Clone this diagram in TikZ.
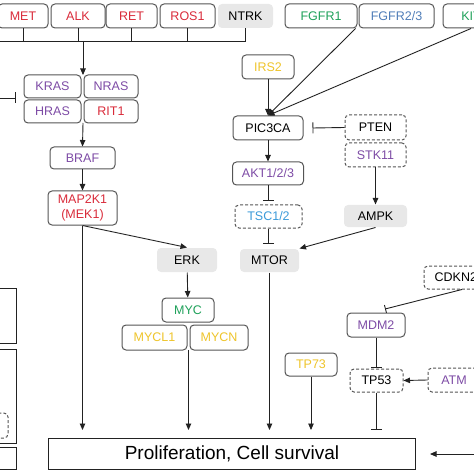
\documentclass[tikz,border=0pt]{standalone}
\usepackage{fontspec}
\setmainfont{Liberation Sans}
\usetikzlibrary{arrows.meta,calc}
\definecolor{cred}{HTML}{D92B3A}
\definecolor{cpur}{HTML}{7D4BA5}
\definecolor{cgrn}{HTML}{1FA15A}
\definecolor{cblu}{HTML}{4F7DB8}
\definecolor{ctsc}{HTML}{3B9AD9}
\definecolor{cyel}{HTML}{EEC42A}
\definecolor{gfill}{HTML}{E8E8E8}
\definecolor{boxgray}{HTML}{555555}
\definecolor{lncol}{HTML}{222222}
\begin{document}
\begin{tikzpicture}[x=1bp,y=-1bp,
 box/.style={draw=boxgray, line width=1bp, rounded corners=4bp, inner sep=0pt, font=\fontsize{12.5bp}{14.5bp}\selectfont},
 dbox/.style={box, dash pattern=on 3bp off 2bp},
 gbox/.style={box, draw=none, fill=gfill},
 arr/.style={-{Triangle[length=6.5bp,width=5.5bp]}, line width=0.9bp, draw=lncol},
 inh/.style={-{Bar[width=11bp]}, line width=0.9bp, draw=lncol},
 ln/.style={line width=0.9bp, draw=lncol},
 lbox/.style={draw=lncol, line width=1bp},
]
\useasboundingbox (0,0) rectangle (474,474);
% top row
\node[box,text=cred,minimum width=50bp,minimum height=24bp] (MET) at (23,16) {MET};
\node[box,text=cred,minimum width=54bp,minimum height=24bp] (ALK) at (78,16) {ALK};
\node[box,text=cred,minimum width=51bp,minimum height=24bp] (RET) at (131.5,16) {RET};
\node[box,text=cred,minimum width=55bp,minimum height=24bp] (ROS1) at (187.5,16) {ROS1};
\node[gbox,minimum width=55bp,minimum height=24bp] (NTRK) at (245.5,16) {NTRK};
\node[box,text=cgrn,minimum width=72bp,minimum height=24bp] (FGFR1) at (321,16) {FGFR1};
\node[box,text=cblu,minimum width=75bp,minimum height=24bp] (FGFR23) at (396.5,16) {FGFR2/3};
\node[box,text=cgrn,minimum width=56bp,minimum height=24bp] (KIT) at (471,16) {KIT};
% bus
\coordinate (busL) at (0,41);
\coordinate (busA) at (83,41);
\draw[ln] (busL) -- (NTRK.south |- busL) -- (NTRK.south);
\foreach \n in {MET,ALK,RET,ROS1} \draw[ln] (\n.south) -- (\n.south |- busL);
% RAS group
\node[box,text=cpur,minimum width=57bp,minimum height=23bp] (KRAS) at (52.5,86.5) {KRAS};
\node[box,text=cpur,minimum width=54bp,minimum height=23bp] (NRAS) at (111,86.5) {NRAS};
\node[box,text=cpur,minimum width=57bp,minimum height=23bp] (HRAS) at (52.5,111.5) {HRAS};
\node[box,text=cred,minimum width=54bp,minimum height=23bp] (RIT1) at (111,111.5) {RIT1};
\coordinate (rasTop) at (83,75);
\coordinate (rasBot) at (83,123);
\draw[arr] (busA) -- (rasTop);
\coordinate (inL) at (0,98);
\coordinate (inLbar) at (16,98);
\draw[inh] (inL) -- (inLbar);
% MAPK
\node[box,text=cpur,minimum width=65bp,minimum height=22bp] (BRAF) at (82.5,158) {BRAF};
\node[box,text=cred,minimum width=69bp,minimum height=34bp,align=center] (MEK) at (82.5,208) {MAP2K1\\(MEK1)};
\draw[arr] (rasBot) -- (BRAF.north);
\draw[arr] (BRAF) -- (MEK);
\coordinate (ptop) at (0,430);
\draw[arr] (MEK.south) -- (MEK.south |- ptop);
\node[gbox,minimum width=60bp,minimum height=24bp] (ERK) at (187,260) {ERK};
\draw[arr] (MEK.south) -- (ERK.north);
\node[box,text=cgrn,minimum width=52bp,minimum height=24bp] (MYC) at (188,310) {MYC};
\node[box,text=cyel,minimum width=65bp,minimum height=25bp] (MYCL1) at (154.5,337.5) {MYCL1};
\node[box,text=cyel,minimum width=58bp,minimum height=25bp] (MYCN) at (219,337.5) {MYCN};
\draw[arr] (ERK) -- (MYC);
\coordinate (mycBot) at (188.5,350);
\draw[arr] (mycBot) -- (mycBot |- ptop);
% PI3K
\node[box,text=cyel,minimum width=52bp,minimum height=24bp] (IRS2) at (268,67) {IRS2};
\node[box,minimum width=70bp,minimum height=24bp] (PIC3CA) at (268,128) {PIC3CA};
\draw[arr] (IRS2) -- (PIC3CA);
\draw[arr] ($(FGFR1.south east)+(-2,0)$) -- (PIC3CA.north);
\draw[arr] (KIT.south) -- (PIC3CA.north);
\node[dbox,minimum width=61bp,minimum height=25bp] (PTEN) at (375.5,127.5) {PTEN};
\node[dbox,text=cpur,minimum width=61bp,minimum height=24bp] (STK11) at (375.5,155) {STK11};
\draw[inh] (PTEN.west) -- ($(PIC3CA.east)+(9,0)$);
\node[gbox,minimum width=63bp,minimum height=22bp] (AMPK) at (375.5,216) {AMPK};
\draw[arr] (STK11) -- (AMPK);
\node[box,text=cpur,minimum width=71bp,minimum height=23bp] (AKT) at (268,173.5) {AKT1/2/3};
\node[dbox,text=ctsc,minimum width=67bp,minimum height=23bp] (TSC) at (268.5,216.5) {TSC1/2};
\node[gbox,minimum width=59bp,minimum height=23bp] (MTOR) at (269.5,260.5) {MTOR};
\draw[arr] (PIC3CA) -- (AKT);
\draw[inh] (AKT.south) -- ++(0,15);
\draw[inh] (TSC.south) -- ++(0,15);
\draw[arr] (AMPK.south) -- (MTOR.north east);
\draw[arr] (MTOR.south) -- (MTOR.south |- ptop);
\node[box,text=cyel,minimum width=52bp,minimum height=23bp] (TP73) at (311,364.5) {TP73};
\draw[arr] (TP73.south) -- (TP73.south |- ptop);
% p53
\node[dbox,minimum width=72bp,minimum height=23bp] (CDKN2A) at (460,277.5) {CDKN2A};
\node[box,text=cpur,minimum width=58bp,minimum height=24bp] (MDM2) at (376,325) {MDM2};
\node[dbox,minimum width=53bp,minimum height=23bp] (TP53) at (376.5,380.5) {TP53};
\node[dbox,text=cpur,minimum width=52bp,minimum height=24bp] (ATM) at (454,380) {ATM};
\coordinate (mdmBar) at (385,309);
\draw[ln,-{Bar[width=8bp]}] ($(CDKN2A.south)+(2,0)$) -- (mdmBar);
\draw[inh] (MDM2.south) -- ++(0,30);
\draw[arr] (ATM.west) -- (TP53.east);
\draw[inh] (TP53.south) -- (TP53.south |- ptop);
% proliferation
\node[draw=lncol,line width=1bp,minimum width=366bp,minimum height=31bp,inner sep=0pt,font=\fontsize{19bp}{22bp}\selectfont] (PROLIF) at (232,453.5) {Proliferation, Cell survival};
\coordinate (rin) at (476,454);
\coordinate (rend) at (430,454);
\draw[arr] (rin) -- (rend);
% left partial boxes
\draw[lbox] (-10,288) rectangle (16,343);
\draw[lbox] (-10,349) rectangle (16,443);
\draw[lbox] (-10,447) rectangle (16,469);
\draw[draw=boxgray,line width=1bp,rounded corners=4bp,dash pattern=on 3bp off 2bp] (-20,413) rectangle (8,438);
\end{tikzpicture}
\end{document}
